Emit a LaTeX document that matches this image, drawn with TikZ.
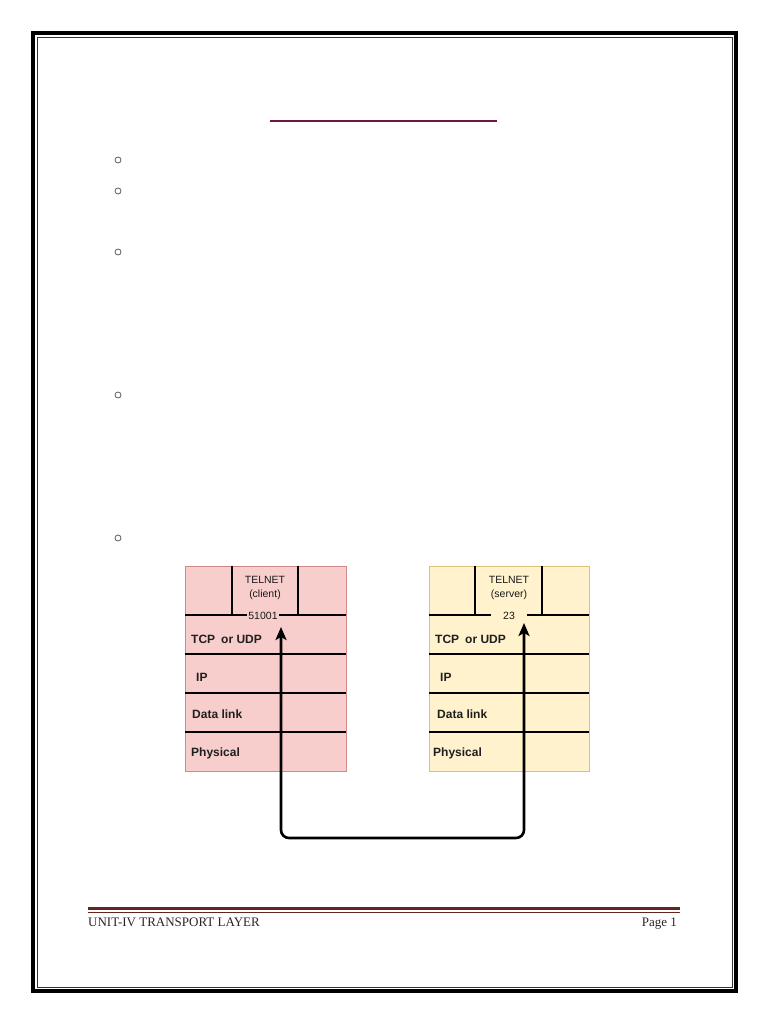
\documentclass[tikz,border=0pt]{standalone}
\usepackage{fontspec}
\setmainfont{Liberation Serif}
\setsansfont{Liberation Sans}
\usetikzlibrary{arrows.meta}
\definecolor{pinkfill}{HTML}{F8CECC}
\definecolor{pinkline}{HTML}{D08A88}
\definecolor{yelfill}{HTML}{FFF2CC}
\definecolor{yelline}{HTML}{DCC07A}
\definecolor{titleline}{RGB}{112,22,66}
\definecolor{footline}{RGB}{99,36,35}
\definecolor{bulletgray}{RGB}{90,90,90}
\tikzset{
  stackbox/.style={draw=#1, line width=0.9pt},
  thickrule/.style={line width=2.6pt, black},
  thinrule/.style={line width=1.7pt, black},
  labeltext/.style={anchor=base west, inner sep=0pt, font=\sffamily\bfseries\fontsize{12}{12}\selectfont, text=black!88},
  smalltext/.style={anchor=base, inner sep=0pt, font=\sffamily\fontsize{10.5}{11}\selectfont, text=black!90},
  porttext/.style={anchor=base, inner sep=1.5pt, font=\sffamily\fontsize{10.5}{10.5}\selectfont, text=black!90},
  bulletmark/.style={draw=bulletgray, line width=0.8pt, circle, minimum size=6pt, inner sep=0pt},
  conn/.style={line width=2.6pt, black, rounded corners=8pt, {Stealth[length=13pt,width=11pt,inset=3pt]}-{Stealth[length=13pt,width=11pt,inset=3pt]}},
  foottext/.style={anchor=base, inner sep=0pt, font=\rmfamily\fontsize{13}{13}\selectfont, text=black!85}
}
\begin{document}
\begin{tikzpicture}[x=1pt, y=-1pt]
\useasboundingbox (0,0) rectangle (768,1024);
% page border
\draw[line width=4pt] (33,33) rectangle (736,991);
\draw[line width=0.9pt, black!80] (37.5,37.5) rectangle (732.5,987.5);
% title rule
\draw[titleline, line width=2.6pt] (270,121) -- (497,121);
% bullets
\foreach \yy/\nm in {160/b1,191/b2,252/b3,395/b4,538/b5}
  \node[bulletmark] (\nm) at (118,\yy) {};
% ---------- client stack ----------
\path[fill=pinkfill] (185,566) rectangle (346,771);
\draw[stackbox=pinkline] (185,566) rectangle (346,771);
\draw[thickrule] (232,566) -- (232,615);
\draw[thickrule] (298,566) -- (298,615);
\draw[line width=1.6pt] (185,615) -- (346,615);
\node[porttext, fill=pinkfill] (cport) at (263,619) {51001};
\node[smalltext] (ctel) at (265,583) {TELNET};
\node[smalltext] (capp) at (265,597) {(client)};
\draw[thickrule] (185,654) -- (346,654);
\draw[thickrule] (185,693) -- (346,693);
\draw[thinrule] (185,732) -- (346,732);
\node[labeltext] (ctcp) at (191,643) {TCP\enspace or UDP};
\node[labeltext] (cip) at (196,681) {IP};
\node[labeltext] (cdl) at (192,718) {Data link};
\node[labeltext] (cph) at (191,756) {Physical};
% ---------- server stack ----------
\path[fill=yelfill] (429,566) rectangle (589,771);
\draw[stackbox=yelline] (429,566) rectangle (589,771);
\draw[thickrule] (475,566) -- (475,615);
\draw[thickrule] (542,566) -- (542,615);
\draw[line width=1.6pt] (429,615) -- (589,615);
\node[porttext, fill=yelfill, inner xsep=12pt] (sport) at (509,619.5) {23};
\node[smalltext] (stel) at (509,583) {TELNET};
\node[smalltext] (sapp) at (509,597) {(server)};
\draw[thickrule] (429,654) -- (589,654);
\draw[thickrule] (429,693) -- (589,693);
\draw[thinrule] (429,732) -- (589,732);
\node[labeltext] (stcp) at (435,643) {TCP\enspace or UDP};
\node[labeltext] (sip) at (440,681) {IP};
\node[labeltext] (sdl) at (437,718) {Data link};
\node[labeltext] (sph) at (433,756) {Physical};
% ---------- connector ----------
\coordinate (ctip) at (281,627);
\coordinate (stip) at (524,623);
\coordinate (cbot) at (281,838);
\coordinate (sbot) at (524,838);
\draw[conn] (ctip) -- (cbot) -- (sbot) -- (stip);
% ---------- footer ----------
\draw[footline, line width=3.6pt] (88,908.5) -- (680,908.5);
\draw[footline, line width=0.8pt] (88,912.3) -- (680,912.3);
\node[foottext, anchor=base west] (fl) at (88,926.5) {UNIT-IV TRANSPORT LAYER};
\node[foottext, anchor=base east] (fr) at (677,926.5) {Page 1};
\end{tikzpicture}
\end{document}
